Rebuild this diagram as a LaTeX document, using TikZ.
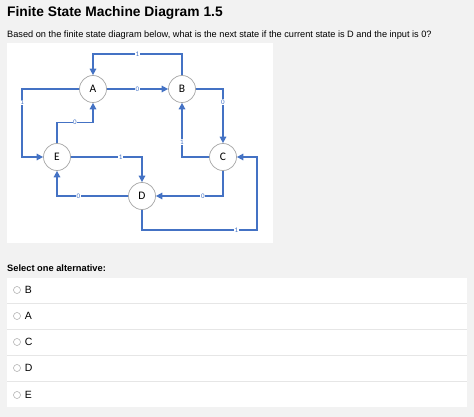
\documentclass[tikz,border=0pt]{standalone}
\usepackage{fontspec}
\setmainfont{Liberation Sans}
\newfontfamily\diagfont{Carlito}
\usepackage{xcolor}
\usetikzlibrary{arrows.meta,positioning,calc}

\definecolor{pagegray}{HTML}{F2F2F2}
\definecolor{linegray}{HTML}{E6E6E6}
\definecolor{fsmblue}{HTML}{4472C4}
\definecolor{ringgray}{HTML}{A6A6A6}

\begin{document}
\begin{tikzpicture}[
    x=1pt, y=-1pt,
    state/.style={circle, draw=ringgray, line width=0.7pt, fill=white,
      minimum size=27pt, inner sep=0pt, font=\diagfont\fontsize{11.5}{13}\selectfont},
    arr/.style={-{Triangle[length=6.5pt, width=6.5pt]}, line width=1.5pt, fsmblue},
    lab/.style={font=\diagfont\fontsize{7}{8}\selectfont, text=fsmblue, fill=white,
      inner sep=0.6pt},
    panel/.style={fill=white, draw=none},
    radio/.style={circle, draw=ringgray, line width=0.5pt, minimum size=7pt, inner sep=0pt},
    opt/.style={anchor=west, font=\fontsize{10.5}{12}\selectfont, inner sep=0pt}
  ]
    % page and panels
    \fill[pagegray] (0,0) rectangle (474,417);
    \useasboundingbox (0,0) rectangle (474,417);
    \fill[panel] (7,43) rectangle (273,243);
    \fill[panel] (7,278) rectangle (467,407);

    \node[anchor=base west, inner sep=0pt, font=\bfseries\fontsize{13.8}{16}\selectfont]
      (title) at (7,17) {Finite State Machine Diagram 1.5};
    \node[anchor=base west, inner sep=0pt, font=\fontsize{9.2}{11}\selectfont]
      (question) at (7,38) {Based on the finite state diagram below, what is the next state if the current state is D and the input is 0?};

    % states
    \node[state] (A) at (93,89) {A};
    \node[state] (B) at (182,89) {B};
    \node[state] (C) at (223,157) {C};
    \node[state] (E) at (57,157) {E};
    \node[state] (D) at (142,196) {D};
    \coordinate (dc) at (257,230);

    % transitions
    \draw[arr] (B.north) -- ++(0,-21) -| node[lab, pos=0.25] {1} (A.north);
    \draw[arr] (A.east) -- node[lab] {0} (B.west);
    \draw[arr] (A.west) -- ++(-57,0) |- node[lab, pos=0.1] {1} (E.west);
    \draw[arr] (E.north) -- ++(0,-20.5) -| node[lab, pos=0.25] {0} (A.south);
    \draw[arr] (B.east) -| node[lab, pos=0.62] {0} (C.north);
    \draw[arr] (C.west) -| node[lab, pos=0.64] {1} (B.south);
    \draw[arr] (E.east) -| node[lab, pos=0.35] {1} (D.north);
    \draw[arr] (D.west) -| node[lab, pos=0.35] {0} (E.south);
    \draw[arr] (C.south) |- node[lab, pos=0.65] {0} (D.east);
    \draw[arr] (D.south) |- node[lab, pos=0.91] {1} (dc) |- (C.east);

    % answers
    \node[anchor=base west, inner sep=0pt, font=\bfseries\fontsize{9.3}{11}\selectfont]
      (select) at (7,271) {Select one alternative:};
    \draw[linegray, line width=0.6pt] (7,303) -- (467,303);
    \draw[linegray, line width=0.6pt] (7,329) -- (467,329);
    \draw[linegray, line width=0.6pt] (7,355) -- (467,355);
    \draw[linegray, line width=0.6pt] (7,381) -- (467,381);
    \node[radio] (r1) at (17,290) {};
    \node[opt, right=4pt of r1] (o1) {B};
    \node[radio] (r2) at (17,316) {};
    \node[opt, right=4pt of r2] (o2) {A};
    \node[radio] (r3) at (17,342) {};
    \node[opt, right=4pt of r3] (o3) {C};
    \node[radio] (r4) at (17,368) {};
    \node[opt, right=4pt of r4] (o4) {D};
    \node[radio] (r5) at (17,395) {};
    \node[opt, right=4pt of r5] (o5) {E};
  \end{tikzpicture}
\end{document}
